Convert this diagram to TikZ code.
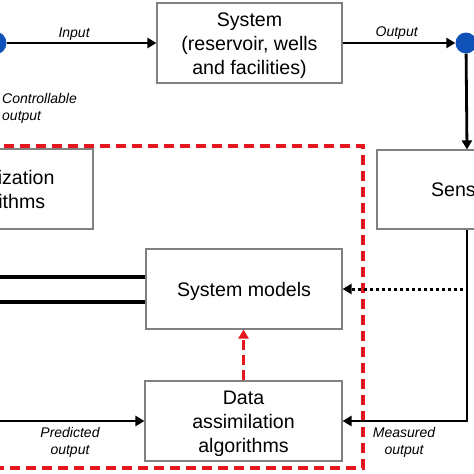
\documentclass[tikz,border=0pt]{standalone}
\usepackage{fontspec}
\setmainfont{Liberation Sans}
\usetikzlibrary{arrows.meta}
\definecolor{boxgray}{RGB}{128,128,128}
\definecolor{dotblue}{RGB}{16,82,184}
\definecolor{dashred}{RGB}{228,22,30}
\newcommand{\bxtext}[1]{\raisebox{-2.5pt}[\height][\depth]{\begin{tabular}{@{}c@{}}#1\end{tabular}}}
\tikzset{
  blk/.style={draw=boxgray, line width=1.1pt, inner sep=0pt,
    font=\fontsize{19.6}{24}\selectfont},
  arr/.style={line width=2.8pt, -{Triangle[length=9pt,width=10pt]}},
  thickline/.style={line width=4pt},
  dotarr/.style={line width=3pt, dash pattern=on 3pt off 3pt, -{Triangle[length=9pt,width=10pt]}},
  redarr/.style={dashred, line width=3pt, dash pattern=on 10pt off 5pt, -{Triangle[length=9pt,width=10pt]}},
  redbox/.style={dashred, line width=3.2pt, dash pattern=on 10pt off 6pt},
  lbl/.style={font=\fontsize{14}{17}\selectfont\itshape, inner sep=0pt},
  junction/.style={circle, fill=dotblue, inner sep=0pt},
}
\begin{document}
\begin{tikzpicture}[x=1pt,y=-1pt]
\useasboundingbox (0,0) rectangle (474,474);
\clip (0,0) rectangle (474,474);
% boxes
\node[blk, minimum width=185pt, minimum height=80pt] (sys) at (249.5,43) {\bxtext{System\\(reservoir, wells\\and facilities)}};
\node[blk, minimum width=180pt, minimum height=79pt] (sens) at (467,189.5) {\bxtext{Sensors}};
\node[blk, minimum width=186pt, minimum height=80pt] (opt) at (0,189) {\bxtext{Optimization\\algorithms}};
\node[blk, minimum width=196pt, minimum height=80pt] (sm) at (244,289) {\bxtext{System models}};
\node[blk, minimum width=197pt, minimum height=80pt] (da) at (243.5,421) {\bxtext{Data\\assimilation\\algorithms}};
% junctions
\node[junction, minimum size=23pt] (cl) at (-5,43) {};
\node[junction, minimum size=21pt] (cr) at (466,43) {};
% red dashed region
\coordinate (rtl) at (-20,146);
\coordinate (rbr) at (363,468);
\draw[redbox] (rtl) rectangle (rbr);
% connectors
\draw[arr] (cl) -- (sys.west) node[lbl, pos=0.45, above=1.5pt] {Input};
\draw[arr] (sys.east) -- (cr) node[lbl, pos=0.48, above=2pt] {Output};
\draw[arr] (cr) -- (sens.north);
\draw[arr] (sens.south) |- (da.east);
\coordinate (dots) at (463,289);
\draw[dotarr] (dots) -- (sm.east);
\coordinate (t1) at (-10,277);
\coordinate (t2) at (-10,302);
\draw[thickline] (t1) -- (t1 -| sm.west);
\draw[thickline] (t2) -- (t2 -| sm.west);
\coordinate (pr) at (-10,421);
\draw[arr] (pr) -- (da.west);
\draw[redarr] (da.north) -- (da.north |- sm.south);
% labels
\node[lbl, anchor=west, align=left] (ctrl) at (2,108) {Controllable\\output};
\node[lbl, align=center] (pred) at (70,442.5) {Predicted\\output};
\node[lbl, align=center] (meas) at (404,442) {Measured\\output};
\end{tikzpicture}
\end{document}
